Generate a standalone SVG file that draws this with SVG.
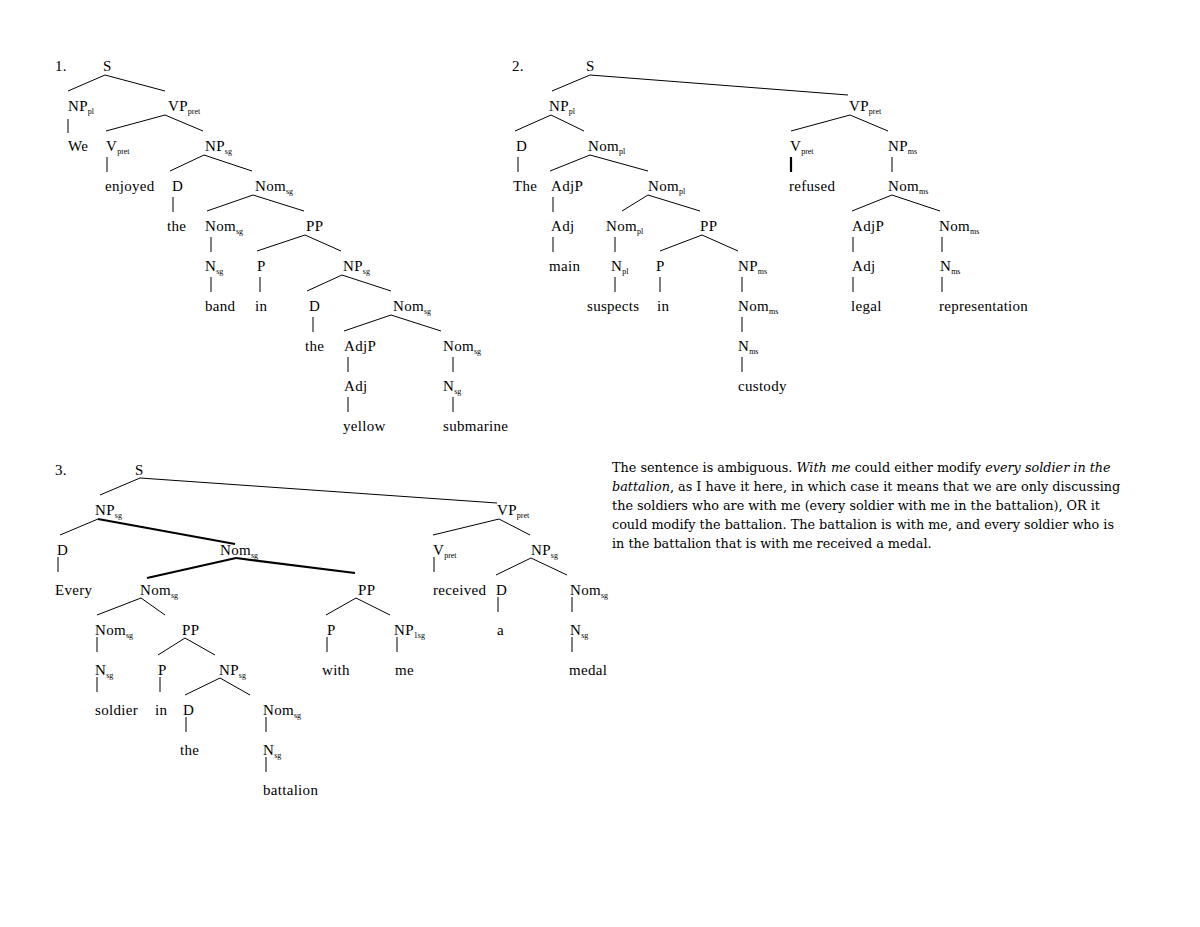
<svg xmlns="http://www.w3.org/2000/svg" width="1200" height="927" viewBox="0 0 1200 927">
<style>
text{font-family:"Liberation Serif","DejaVu Serif",serif;font-size:15px;letter-spacing:0.3px;fill:#000}
tspan{fill:#000}
.s{font-size:8px;letter-spacing:0}
.p{font-family:"DejaVu Serif","Liberation Serif",serif;font-size:12.8px;letter-spacing:0}
line{stroke:#000;stroke-width:1}
.k{stroke-width:2.2}
</style>
<rect width="1200" height="927" fill="#fff"/>
<g id="connectors">
<line x1="105" y1="75" x2="68" y2="91"/><line x1="105" y1="75" x2="165" y2="91"/>
<line x1="68" y1="119" x2="68" y2="133"/>
<line x1="165" y1="115" x2="106" y2="131"/><line x1="165" y1="115" x2="203" y2="131"/>
<line x1="107" y1="157" x2="107" y2="172"/>
<line x1="204" y1="155" x2="170" y2="171"/><line x1="204" y1="155" x2="252" y2="171"/>
<line x1="173" y1="197" x2="173" y2="212"/>
<line x1="253" y1="195" x2="207" y2="211"/><line x1="253" y1="195" x2="304" y2="211"/>
<line x1="211" y1="237" x2="211" y2="252"/><line x1="211" y1="277" x2="211" y2="292"/>
<line x1="305" y1="235" x2="257" y2="251"/><line x1="305" y1="235" x2="341" y2="251"/>
<line x1="260" y1="277" x2="260" y2="292"/>
<line x1="342" y1="275" x2="307" y2="291"/><line x1="342" y1="275" x2="391" y2="291"/>
<line x1="313" y1="317" x2="313" y2="332"/>
<line x1="391" y1="315" x2="344" y2="331"/><line x1="391" y1="315" x2="441" y2="331"/>
<line x1="348" y1="357" x2="348" y2="372"/><line x1="348" y1="397" x2="348" y2="412"/>
<line x1="453" y1="357" x2="453" y2="372"/><line x1="453" y1="397" x2="453" y2="412"/>
<line x1="590" y1="75" x2="552" y2="91"/><line x1="590" y1="75" x2="848" y2="95"/>
<line x1="551" y1="115" x2="515" y2="131"/><line x1="551" y1="115" x2="584" y2="131"/>
<line x1="518" y1="157" x2="518" y2="172"/>
<line x1="590" y1="155" x2="550" y2="171"/><line x1="590" y1="155" x2="648" y2="171"/>
<line x1="553" y1="197" x2="553" y2="212"/><line x1="553" y1="237" x2="553" y2="252"/>
<line x1="648" y1="195" x2="622" y2="211"/><line x1="648" y1="195" x2="700" y2="211"/>
<line x1="615" y1="237" x2="615" y2="252"/><line x1="615" y1="277" x2="615" y2="292"/>
<line x1="702" y1="235" x2="660" y2="251"/><line x1="702" y1="235" x2="738" y2="251"/>
<line x1="660" y1="277" x2="660" y2="292"/>
<line x1="742" y1="277" x2="742" y2="292"/><line x1="742" y1="317" x2="742" y2="332"/><line x1="742" y1="357" x2="742" y2="372"/>
<line x1="850" y1="115" x2="791" y2="131"/><line x1="850" y1="115" x2="888" y2="131"/>
<line class="k" x1="791" y1="157" x2="791" y2="172"/>
<line x1="892" y1="157" x2="892" y2="172"/>
<line x1="892" y1="195" x2="852" y2="211"/><line x1="892" y1="195" x2="940" y2="211"/>
<line x1="853" y1="237" x2="853" y2="252"/><line x1="853" y1="277" x2="853" y2="292"/>
<line x1="942" y1="237" x2="942" y2="252"/><line x1="942" y1="277" x2="942" y2="292"/>
<line x1="140" y1="478" x2="100" y2="495"/><line x1="140" y1="478" x2="497" y2="503"/>
<line x1="98" y1="519" x2="60" y2="535"/><line class="k" x1="98" y1="519" x2="235" y2="544"/>
<line x1="58" y1="557" x2="58" y2="572"/>
<line class="k" x1="236" y1="558" x2="147" y2="578"/><line class="k" x1="236" y1="558" x2="355" y2="573"/>
<line x1="141" y1="598" x2="97" y2="615"/><line x1="141" y1="598" x2="165" y2="615"/>
<line x1="97" y1="637" x2="97" y2="652"/><line x1="97" y1="677" x2="97" y2="692"/>
<line x1="185" y1="638" x2="158" y2="655"/><line x1="185" y1="638" x2="215" y2="655"/>
<line x1="160" y1="677" x2="160" y2="692"/>
<line x1="220" y1="678" x2="185" y2="695"/><line x1="220" y1="678" x2="250" y2="695"/>
<line x1="186" y1="717" x2="186" y2="732"/>
<line x1="266" y1="717" x2="266" y2="732"/><line x1="266" y1="757" x2="266" y2="772"/>
<line x1="356" y1="598" x2="326" y2="615"/><line x1="356" y1="598" x2="390" y2="615"/>
<line x1="327" y1="637" x2="327" y2="652"/><line x1="397" y1="637" x2="397" y2="652"/>
<line x1="499" y1="519" x2="433" y2="535"/><line x1="499" y1="519" x2="530" y2="535"/>
<line x1="434" y1="557" x2="434" y2="572"/>
<line x1="531" y1="558" x2="496" y2="575"/><line x1="531" y1="558" x2="567" y2="575"/>
<line x1="498" y1="597" x2="498" y2="612"/>
<line x1="572" y1="597" x2="572" y2="612"/><line x1="572" y1="637" x2="572" y2="652"/>
</g>
<g id="tree1">
<text x="55" y="71">1.</text>
<text x="103" y="71">S</text>
<text x="68" y="111">NP<tspan class="s" dy="3">pl</tspan></text>
<text x="168" y="111">VP<tspan class="s" dy="3">pret</tspan></text>
<text x="68" y="151">We</text>
<text x="106" y="151">V<tspan class="s" dy="3">pret</tspan></text>
<text x="205" y="151">NP<tspan class="s" dy="3">sg</tspan></text>
<text x="105" y="191">enjoyed</text>
<text x="172" y="191">D</text>
<text x="255" y="191">Nom<tspan class="s" dy="3">sg</tspan></text>
<text x="167" y="231">the</text>
<text x="205" y="231">Nom<tspan class="s" dy="3">sg</tspan></text>
<text x="306" y="231">PP</text>
<text x="205" y="271">N<tspan class="s" dy="3">sg</tspan></text>
<text x="257" y="271">P</text>
<text x="343" y="271">NP<tspan class="s" dy="3">sg</tspan></text>
<text x="205" y="311">band</text>
<text x="255" y="311">in</text>
<text x="309" y="311">D</text>
<text x="393" y="311">Nom<tspan class="s" dy="3">sg</tspan></text>
<text x="305" y="351">the</text>
<text x="344" y="351">AdjP</text>
<text x="443" y="351">Nom<tspan class="s" dy="3">sg</tspan></text>
<text x="344" y="391">Adj</text>
<text x="443" y="391">N<tspan class="s" dy="3">sg</tspan></text>
<text x="343" y="431">yellow</text>
<text x="443" y="431">submarine</text>
</g>
<g id="tree2">
<text x="512" y="71">2.</text>
<text x="586" y="71">S</text>
<text x="549" y="111">NP<tspan class="s" dy="3">pl</tspan></text>
<text x="849" y="111">VP<tspan class="s" dy="3">pret</tspan></text>
<text x="516" y="151">D</text>
<text x="588" y="151">Nom<tspan class="s" dy="3">pl</tspan></text>
<text x="790" y="151">V<tspan class="s" dy="3">pret</tspan></text>
<text x="888" y="151">NP<tspan class="s" dy="3">ms</tspan></text>
<text x="513" y="191">The</text>
<text x="551" y="191">AdjP</text>
<text x="648" y="191">Nom<tspan class="s" dy="3">pl</tspan></text>
<text x="789" y="191">refused</text>
<text x="888" y="191">Nom<tspan class="s" dy="3">ms</tspan></text>
<text x="551" y="231">Adj</text>
<text x="606" y="231">Nom<tspan class="s" dy="3">pl</tspan></text>
<text x="700" y="231">PP</text>
<text x="852" y="231">AdjP</text>
<text x="939" y="231">Nom<tspan class="s" dy="3">ms</tspan></text>
<text x="549" y="271">main</text>
<text x="611" y="271">N<tspan class="s" dy="3">pl</tspan></text>
<text x="656" y="271">P</text>
<text x="738" y="271">NP<tspan class="s" dy="3">ms</tspan></text>
<text x="852" y="271">Adj</text>
<text x="940" y="271">N<tspan class="s" dy="3">ms</tspan></text>
<text x="587" y="311">suspects</text>
<text x="657" y="311">in</text>
<text x="738" y="311">Nom<tspan class="s" dy="3">ms</tspan></text>
<text x="851" y="311">legal</text>
<text x="939" y="311">representation</text>
<text x="738" y="351">N<tspan class="s" dy="3">ms</tspan></text>
<text x="738" y="391">custody</text>
</g>
<g id="tree3">
<text x="55" y="475">3.</text>
<text x="135" y="475">S</text>
<text x="95" y="515">NP<tspan class="s" dy="3">sg</tspan></text>
<text x="497" y="515">VP<tspan class="s" dy="3">pret</tspan></text>
<text x="57" y="555">D</text>
<text x="220" y="555">Nom<tspan class="s" dy="3">sg</tspan></text>
<text x="433" y="555">V<tspan class="s" dy="3">pret</tspan></text>
<text x="531" y="555">NP<tspan class="s" dy="3">sg</tspan></text>
<text x="55" y="595">Every</text>
<text x="140" y="595">Nom<tspan class="s" dy="3">sg</tspan></text>
<text x="358" y="595">PP</text>
<text x="433" y="595">received</text>
<text x="496" y="595">D</text>
<text x="570" y="595">Nom<tspan class="s" dy="3">sg</tspan></text>
<text x="95" y="635">Nom<tspan class="s" dy="3">sg</tspan></text>
<text x="182" y="635">PP</text>
<text x="327" y="635">P</text>
<text x="394" y="635">NP<tspan class="s" dy="3">1sg</tspan></text>
<text x="497" y="635">a</text>
<text x="570" y="635">N<tspan class="s" dy="3">sg</tspan></text>
<text x="95" y="675">N<tspan class="s" dy="3">sg</tspan></text>
<text x="158" y="675">P</text>
<text x="219" y="675">NP<tspan class="s" dy="3">sg</tspan></text>
<text x="322" y="675">with</text>
<text x="395" y="675">me</text>
<text x="569" y="675">medal</text>
<text x="95" y="715">soldier</text>
<text x="155" y="715">in</text>
<text x="183" y="715">D</text>
<text x="263" y="715">Nom<tspan class="s" dy="3">sg</tspan></text>
<text x="180" y="755">the</text>
<text x="263" y="755">N<tspan class="s" dy="3">sg</tspan></text>
<text x="263" y="795">battalion</text>
</g>
<g id="note">
<text class="p" x="612" y="472">The sentence is ambiguous. <tspan font-style="italic">With me</tspan> could either modify <tspan font-style="italic">every soldier in the</tspan></text>
<text class="p" x="612" y="491"><tspan font-style="italic">battalion</tspan>, as I have it here, in which case it means that we are only discussing</text>
<text class="p" x="612" y="510">the soldiers who are with me (every soldier with me in the battalion), OR it</text>
<text class="p" x="612" y="529">could modify the battalion. The battalion is with me, and every soldier who is</text>
<text class="p" x="612" y="548">in the battalion that is with me received a medal.</text>
</g>
</svg>
